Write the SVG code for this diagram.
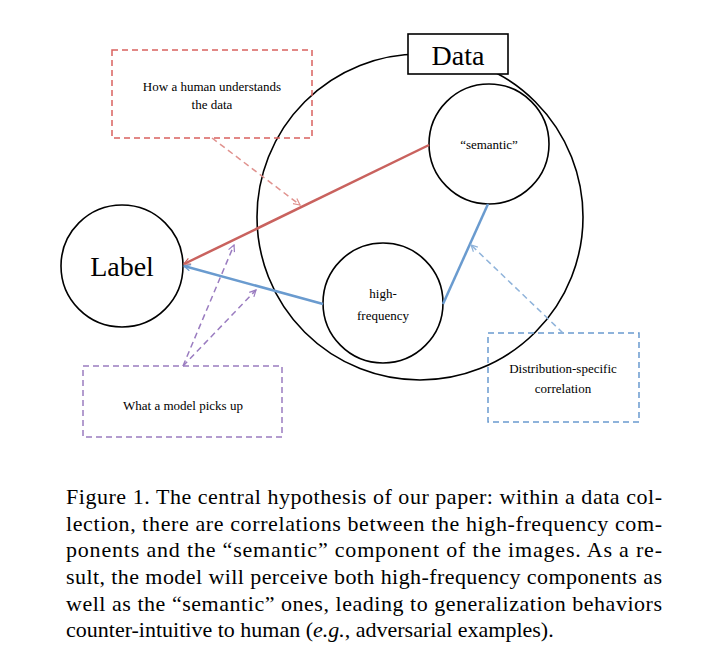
<svg xmlns="http://www.w3.org/2000/svg" width="719" height="665" viewBox="0 0 719 665">
<style>
text{font-family:"Liberation Serif","Times New Roman",serif;fill:#000}
.s{font-size:13px;text-anchor:middle}
.b{font-size:28px;text-anchor:middle}
.n{fill:#fff;stroke:#000;stroke-width:1.6}
.d{fill:none;stroke-width:1.5;stroke-dasharray:6,4}
</style>
<defs>
<marker id="ar" viewBox="0 0 10 10" refX="9" refY="5" markerWidth="8" markerHeight="8" orient="auto" markerUnits="userSpaceOnUse"><path d="M1,1L9,5L1,9" fill="none" stroke="#c9625e" stroke-width="1.5"/></marker>
<marker id="ab" viewBox="0 0 10 10" refX="9" refY="5" markerWidth="8" markerHeight="8" orient="auto" markerUnits="userSpaceOnUse"><path d="M1,1L9,5L1,9" fill="none" stroke="#6a9bcf" stroke-width="1.5"/></marker>
<marker id="ap" viewBox="0 0 10 10" refX="9" refY="5" markerWidth="8" markerHeight="8" orient="auto" markerUnits="userSpaceOnUse"><path d="M1,1L9,5L1,9" fill="none" stroke="#9a7cc0" stroke-width="1.5"/></marker>
<marker id="ar2" viewBox="0 0 10 10" refX="9" refY="5" markerWidth="8" markerHeight="8" orient="auto" markerUnits="userSpaceOnUse"><path d="M1,1L9,5L1,9" fill="none" stroke="#e0928e" stroke-width="1.5"/></marker>
<marker id="ab2" viewBox="0 0 10 10" refX="9" refY="5" markerWidth="8" markerHeight="8" orient="auto" markerUnits="userSpaceOnUse"><path d="M1,1L9,5L1,9" fill="none" stroke="#8fb3da" stroke-width="1.5"/></marker>
</defs>
<g id="data-set"><ellipse cx="420" cy="217" rx="163" ry="163" fill="none" stroke="#000" stroke-width="1.6"/></g>
<g id="data-label"><rect x="408" y="34" width="100" height="40" class="n"/><text x="458" y="65" class="b">Data</text></g>
<g id="semantic"><circle cx="489" cy="144" r="60" class="n"/><text x="489" y="149" class="s">“semantic”</text></g>
<g id="high-frequency"><circle cx="383" cy="303" r="60" class="n"/><text x="383" y="298" class="s">high-</text><text x="383" y="320" class="s">frequency</text></g>
<g id="label"><circle cx="122" cy="266" r="61" class="n"/><text x="122" y="276" class="b">Label</text></g>
<g id="human-box"><rect x="112" y="50" width="200" height="88" class="d" stroke="#d9625f"/><text x="212" y="91" class="s">How a human understands</text><text x="212" y="109" class="s">the data</text></g>
<g id="model-box"><rect x="83" y="366" width="199" height="71" class="d" stroke="#9a7cc0"/><text x="183" y="410" class="s">What a model picks up</text></g>
<g id="correlation-box"><rect x="488" y="333" width="151" height="89" class="d" stroke="#6a9bcf"/><text x="563" y="373" class="s">Distribution-specific</text><text x="563" y="393" class="s">correlation</text></g>
<g id="connectors">
<line x1="429" y1="145" x2="184" y2="264" stroke="#c9625e" stroke-width="2.5" marker-end="url(#ar)"/>
<line x1="323" y1="304" x2="184" y2="266" stroke="#6a9bcf" stroke-width="2.5" marker-end="url(#ab)"/>
<line x1="488" y1="204" x2="443" y2="304" stroke="#6a9bcf" stroke-width="2.5"/>
<line x1="212" y1="138" x2="300" y2="205" class="d" stroke="#e0928e" marker-end="url(#ar2)"/>
<line x1="183" y1="366" x2="234" y2="245" class="d" stroke="#9a7cc0" marker-end="url(#ap)"/>
<line x1="183" y1="366" x2="256" y2="290" class="d" stroke="#9a7cc0" marker-end="url(#ap)"/>
<line x1="563" y1="333" x2="471" y2="245" class="d" stroke="#8fb3da" marker-end="url(#ab2)"/>
</g>
<g id="caption" font-family="Liberation Serif, serif" font-size="22">
<text x="66" y="504" textLength="596" lengthAdjust="spacing">Figure 1. The central hypothesis of our paper: within a data col-</text>
<text x="66" y="531" textLength="596" lengthAdjust="spacing">lection, there are correlations between the high-frequency com-</text>
<text x="66" y="557" textLength="596" lengthAdjust="spacing">ponents and the “semantic” component of the images. As a re-</text>
<text x="66" y="584" textLength="596" lengthAdjust="spacing">sult, the model will perceive both high-frequency components as</text>
<text x="66" y="611" textLength="596" lengthAdjust="spacing">well as the “semantic” ones, leading to generalization behaviors</text>
<text x="66" y="637">counter-intuitive to human (<tspan font-style="italic">e.g.</tspan>, adversarial examples).</text>
</g>
</svg>
